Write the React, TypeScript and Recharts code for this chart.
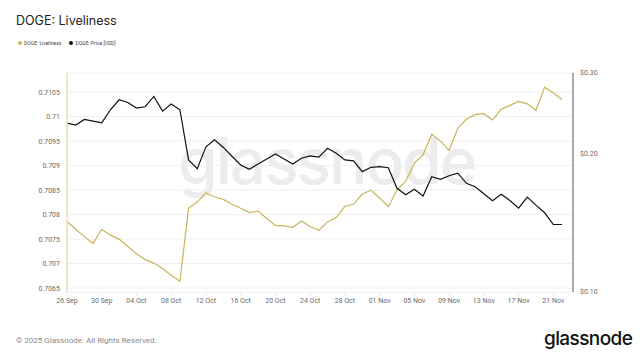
import React from 'react';
import { LineChart, Line, XAxis, YAxis, CartesianGrid } from 'recharts';

const dates = [
  '26 Sep', '27 Sep', '28 Sep', '29 Sep', '30 Sep',
  '01 Oct', '02 Oct', '03 Oct', '04 Oct', '05 Oct', '06 Oct', '07 Oct', '08 Oct', '09 Oct', '10 Oct',
  '11 Oct', '12 Oct', '13 Oct', '14 Oct', '15 Oct', '16 Oct', '17 Oct', '18 Oct', '19 Oct', '20 Oct',
  '21 Oct', '22 Oct', '23 Oct', '24 Oct', '25 Oct', '26 Oct', '27 Oct', '28 Oct', '29 Oct', '30 Oct', '31 Oct',
  '01 Nov', '02 Nov', '03 Nov', '04 Nov', '05 Nov', '06 Nov', '07 Nov', '08 Nov', '09 Nov', '10 Nov',
  '11 Nov', '12 Nov', '13 Nov', '14 Nov', '15 Nov', '16 Nov', '17 Nov', '18 Nov', '19 Nov', '20 Nov',
  '21 Nov', '22 Nov',
];

const liveliness = [
  0.70786, 0.7077, 0.70755, 0.70741, 0.7077, 0.70758, 0.7075, 0.70735, 0.7072, 0.70708,
  0.70701, 0.7069, 0.70676, 0.70664, 0.70813, 0.70826, 0.70844, 0.70836, 0.70831, 0.70821,
  0.70813, 0.70804, 0.70807, 0.70792, 0.70778, 0.70777, 0.70774, 0.70787, 0.70775, 0.70768,
  0.70785, 0.70794, 0.70817, 0.70821, 0.70842, 0.7085, 0.70834, 0.70816, 0.7085, 0.70868,
  0.70905, 0.70922, 0.70964, 0.7095, 0.70931, 0.70976, 0.70995, 0.71004, 0.71006, 0.70993,
  0.71015, 0.71023, 0.71031, 0.71026, 0.71013, 0.7106, 0.71048, 0.71035,
];

const price = [
  0.2333, 0.231, 0.2376, 0.2357, 0.2337, 0.2495, 0.2623, 0.2588, 0.2516, 0.2533,
  0.2667, 0.2478, 0.2567, 0.2495, 0.194, 0.1856, 0.2071, 0.2145, 0.2065, 0.1976,
  0.1891, 0.1851, 0.1901, 0.1949, 0.1999, 0.1949, 0.1901, 0.1956, 0.1979, 0.1967,
  0.2057, 0.2006, 0.194, 0.193, 0.1829, 0.1869, 0.1875, 0.1865, 0.1682, 0.1629,
  0.1674, 0.1619, 0.1783, 0.176, 0.1792, 0.1816, 0.1725, 0.1696, 0.1637, 0.158,
  0.1632, 0.1583, 0.1523, 0.161, 0.1546, 0.1488, 0.1403, 0.1403,
];

const xTicks = ['26 Sep', '30 Sep', '04 Oct', '08 Oct', '12 Oct', '16 Oct', '20 Oct', '24 Oct', '28 Oct', '01 Nov', '05 Nov', '09 Nov', '13 Nov', '17 Nov', '21 Nov'];
const livelinessTicks = [0.7065, 0.707, 0.7075, 0.708, 0.7085, 0.709, 0.7095, 0.71, 0.7105];
const priceTicks = [0.1, 0.2, 0.3];

const data = dates.map((d, i) => ({ date: d, liveliness: liveliness[i], price: price[i] }));

const GOLD = '#c9b35a';
const tickStyle = { fill: '#6b6b6b', fontSize: 7, fontFamily: 'Roboto, sans-serif' };

const App = () => {
  return (
    <div style={{ position: 'absolute', left: 0, top: 0, width: 640, height: 360, background: '#fff', overflow: 'hidden', fontFamily: 'Roboto, sans-serif' }}>
      {/* faint watermark behind the plot */}
      <div style={{ position: 'absolute', left: 178, top: 122, fontFamily: 'Inter, sans-serif', fontSize: 64, fontWeight: 500, color: '#ececec', letterSpacing: -2 }}>
        glassnode
      </div>
      <div style={{ position: 'absolute', left: 16, top: 13, fontFamily: 'Inter, sans-serif', fontSize: 12.5, color: '#222' }}>
        DOGE: Liveliness
      </div>
      <div style={{ position: 'absolute', left: 18, top: 40, fontSize: 5, color: '#444', display: 'flex', gap: 8, alignItems: 'center' }}>
        <span style={{ display: 'flex', alignItems: 'center', gap: 2 }}>
          <span style={{ width: 4, height: 4, borderRadius: 2, background: GOLD }} />DOGE: Liveliness
        </span>
        <span style={{ display: 'flex', alignItems: 'center', gap: 2 }}>
          <span style={{ width: 4, height: 4, borderRadius: 2, background: '#111' }} />DOGE: Price [USD]
        </span>
      </div>
      <div style={{ position: 'absolute', left: 0, top: 0 }}>
        <LineChart width={640} height={360} data={data} margin={{ top: 73, right: 0, bottom: 48, left: 0 }}>
          <CartesianGrid yAxisId="left" vertical={false} stroke="#efefef" />
          <XAxis
            dataKey="date"
            ticks={xTicks}
            interval={0}
            height={20}
            padding={{ left: 0, right: 11 }}
            axisLine={false}
            tickLine={{ stroke: '#eeeeee' }}
            tickSize={4}
            tick={tickStyle}
          />
          <YAxis
            yAxisId="left"
            orientation="left"
            width={67}
            domain={[0.70642, 0.71089]}
            ticks={livelinessTicks}
            allowDataOverflow
            tickFormatter={(v: number) => String(+v.toFixed(4))}
            axisLine={{ stroke: '#ecdfb4', strokeWidth: 1.5 }}
            tickLine={false}
            tickSize={5}
            tick={tickStyle}
          />
          <YAxis
            yAxisId="right"
            orientation="right"
            width={67}
            scale="log"
            domain={[0.1, 0.3]}
            ticks={priceTicks}
            allowDataOverflow
            stroke="#6b6b6b"
            tickFormatter={(v: number) => `$${v.toFixed(2)}`}
            axisLine={{ stroke: '#555' }}
            tickLine={false}
            tickSize={5}
            tick={tickStyle}
          />
          <Line yAxisId="left" type="linear" dataKey="liveliness" stroke={GOLD} strokeWidth={1.2} dot={false} isAnimationActive={false} />
          <Line yAxisId="right" type="linear" dataKey="price" stroke="#111" strokeWidth={1.2} dot={false} isAnimationActive={false} />
        </LineChart>
      </div>
      <div style={{ position: 'absolute', left: 16, top: 336, fontSize: 8, color: '#8a8a8a' }}>
        © 2025 Glassnode. All Rights Reserved.
      </div>
      <div style={{ position: 'absolute', left: 544, top: 327, fontFamily: 'Inter, sans-serif', fontSize: 19, fontWeight: 500, color: '#111', letterSpacing: -0.6 }}>
        glassnode
      </div>
    </div>
  );
};

export default App;
